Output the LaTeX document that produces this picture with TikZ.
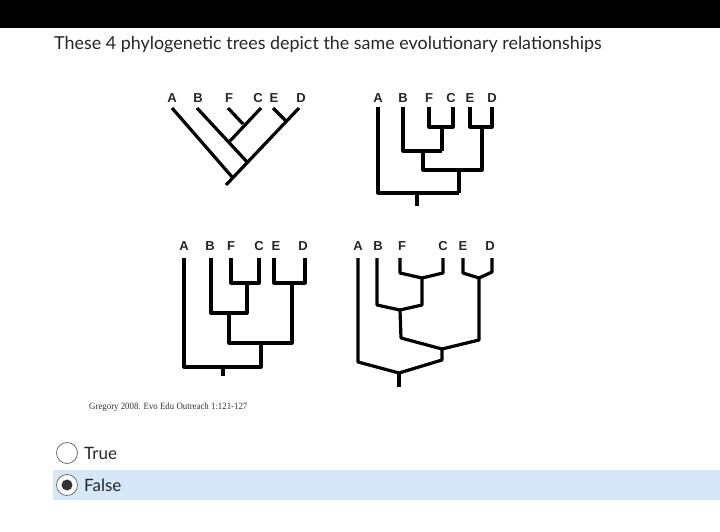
\documentclass[tikz,border=0pt]{standalone}
\usepackage{fontspec}
\setmainfont{Lato}
\newfontfamily\citefont{Liberation Serif}
\newfontfamily\lblfont{Liberation Sans}
\definecolor{band}{HTML}{D6E7F8}
\begin{document}
\begin{tikzpicture}[x=1pt,y=-1pt,
  tl/.style={line width=3.2pt,line join=round},
  lbl/.style={font=\lblfont\bfseries\fontsize{13}{13}\selectfont,inner sep=0pt,text=black!85},
  radio/.style={circle,draw=black!55,line width=0.8pt,fill=white,minimum size=21pt,inner sep=0pt}]
\useasboundingbox (0,0) rectangle (720,532);
\fill[white] (0,0) rectangle (720,532);
\fill[black] (0,0) rectangle (720,28);
\node[anchor=west,inner sep=0pt,font=\fontsize{17.9}{18}\selectfont,text=black!85] (title) at (54,45) {These 4 phylogenetic trees depict the same evolutionary relationships};
% Tree 1
\foreach \n/\x in {A/172,B/198,F/229,C/258,E/274,D/301}{\node[lbl] (t1\n) at (\x,98) {\n};}
\draw[tl] (172,108) -- (233,178);
\draw[tl] (299,108) -- (226,185);
\draw[tl] (197,108) -- (248,163);
\draw[tl] (261,108) -- (230,141);
\draw[tl] (228,108) -- (243,124);
\draw[tl] (273,108) -- (286,121);
% Tree 2
\foreach \n/\x in {A/378,B/403,F/429,C/451,E/470,D/492}{\node[lbl] (t2\n) at (\x,98) {\n};}
\draw[tl] (429,107) -- (429,127) -- (453,127) -- (453,107);
\draw[tl] (470,107) -- (470,127) -- (492,127) -- (492,107);
\draw[tl] (442,127) -- (442,151);
\draw[tl] (403,107) -- (403,151) -- (442,151);
\draw[tl] (423,151) -- (423,170) -- (482,170) -- (482,127);
\draw[tl] (459,170) -- (459,193);
\draw[tl] (378,107) -- (378,193) -- (459,193);
\draw[tl] (417,193) -- (417,206);
% Tree 3
\foreach \n/\x in {A/184,B/210,F/231,C/259,E/276,D/303}{\node[lbl] (t3\n) at (\x,246) {\n};}
\draw[tl] (231,258) -- (231,283) -- (259,283) -- (259,258);
\draw[tl] (274,258) -- (274,283) -- (305,283) -- (305,258);
\draw[tl] (247,283) -- (247,313) -- (211,313) -- (211,258);
\draw[tl] (229,313) -- (229,343) -- (292,343) -- (292,283);
\draw[tl] (261,343) -- (261,367) -- (184,367) -- (184,258);
\draw[tl] (223,367) -- (223,376);
% Tree 4
\foreach \n/\x in {A/358,B/378,F/402,C/443,E/463,D/490}{\node[lbl] (t4\n) at (\x,246) {\n};}
\draw[tl] (400,258) -- (400,273) -- (422,278) -- (443,273) -- (443,258);
\draw[tl] (463,258) -- (463,273) -- (479,278) -- (492,272) -- (492,258);
\draw[tl] (377,258) -- (377,305) -- (400,310) -- (422,305) -- (422,278);
\draw[tl] (479,278) -- (479,340) -- (442,349) -- (401,338) -- (400,310);
\draw[tl] (358,258) -- (358,362) -- (399,373) -- (442,360) -- (442,349);
\draw[tl] (399,373) -- (399,387);
% citation
\node[anchor=west,inner sep=0pt,font=\citefont\fontsize{9.6}{10}\selectfont,text=black!80,xscale=0.92] (cite) at (89,407) {Gregory 2008. Evo Edu Outreach 1:121-127};
% answers
\fill[band] (53,470) rectangle (720,500);
\node[radio] (r1) at (67,453) {};
\node[radio] (r2) at (67,485) {};
\fill[black!80] (r2) circle (5.5pt);
\node[anchor=west,inner sep=0pt,font=\fontsize{17}{17}\selectfont,text=black!85] (true) at (84,453) {True};
\node[anchor=west,inner sep=0pt,font=\fontsize{17}{17}\selectfont,text=black!85] (false) at (84,485) {False};
\end{tikzpicture}
\end{document}
